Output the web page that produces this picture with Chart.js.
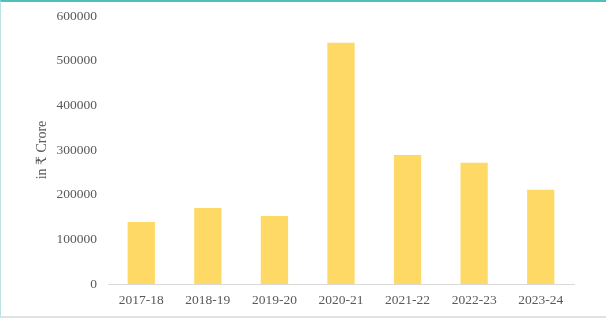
<!DOCTYPE html>
<html>
<head>
<meta charset="utf-8">
<script src="https://cdn.jsdelivr.net/npm/chart.js@4"></script>
<style>
    html, body { margin: 0; padding: 0; background: #fff; }
    #wrap {
        position: relative;
        width: 606px;
        height: 318px;
        box-sizing: border-box;
        border-top: 2px solid #4fbfbf;
        border-left: 1px solid #bfe3e3;
        border-bottom: 2px solid #dde3e3;
    }
    #chart { display: block; }
</style>
</head>
<body>
<div id="wrap"><canvas id="chart" width="605" height="314"></canvas></div>
<script>
// Values
const years = ['2017-18', '2018-19', '2019-20', '2020-21', '2021-22', '2022-23', '2023-24'];
const amounts = [139000, 170000, 152000, 540000, 289000, 271500, 211000];
const yTicks = [0, 100000, 200000, 300000, 400000, 500000, 600000];

const axisFont = { family: "'Liberation Serif', 'DejaVu Serif', serif", size: 13.5 };
const textColor = '#595959';

new Chart(document.getElementById('chart').getContext('2d'), {
    type: 'bar',
    data: {
        labels: years,
        datasets: [{
            data: amounts,
            backgroundColor: '#ffd966',
            barPercentage: 0.41,
            categoryPercentage: 1
        }]
    },
    options: {
        responsive: false,
        animation: false,
        layout: { padding: { top: 14, right: 32, bottom: 0, left: 0 } },
        plugins: {
            legend: { display: false },
            tooltip: { enabled: false }
        },
        scales: {
            x: {
                grid: { display: false, drawTicks: false },
                border: { color: '#d9d9d9', width: 1 },
                ticks: { color: textColor, font: axisFont, padding: 8 },
                afterFit: s => { s.height = 32; }
            },
            y: {
                min: 0,
                max: 600000,
                afterBuildTicks: s => { s.ticks = yTicks.map(v => ({ value: v })); },
                grid: { display: false, drawTicks: false },
                border: { display: false },
                ticks: { color: textColor, font: axisFont, padding: 11, callback: v => String(v) },
                title: {
                    display: true,
                    text: 'in ₹ Crore',
                    color: textColor,
                    font: { family: "'Liberation Serif', 'DejaVu Serif', serif", size: 14 },
                    padding: { top: 33, bottom: 0 }
                },
                afterFit: s => { s.width = 107; s.paddingTop = 0; }
            }
        }
    }
});
</script>
</body>
</html>
